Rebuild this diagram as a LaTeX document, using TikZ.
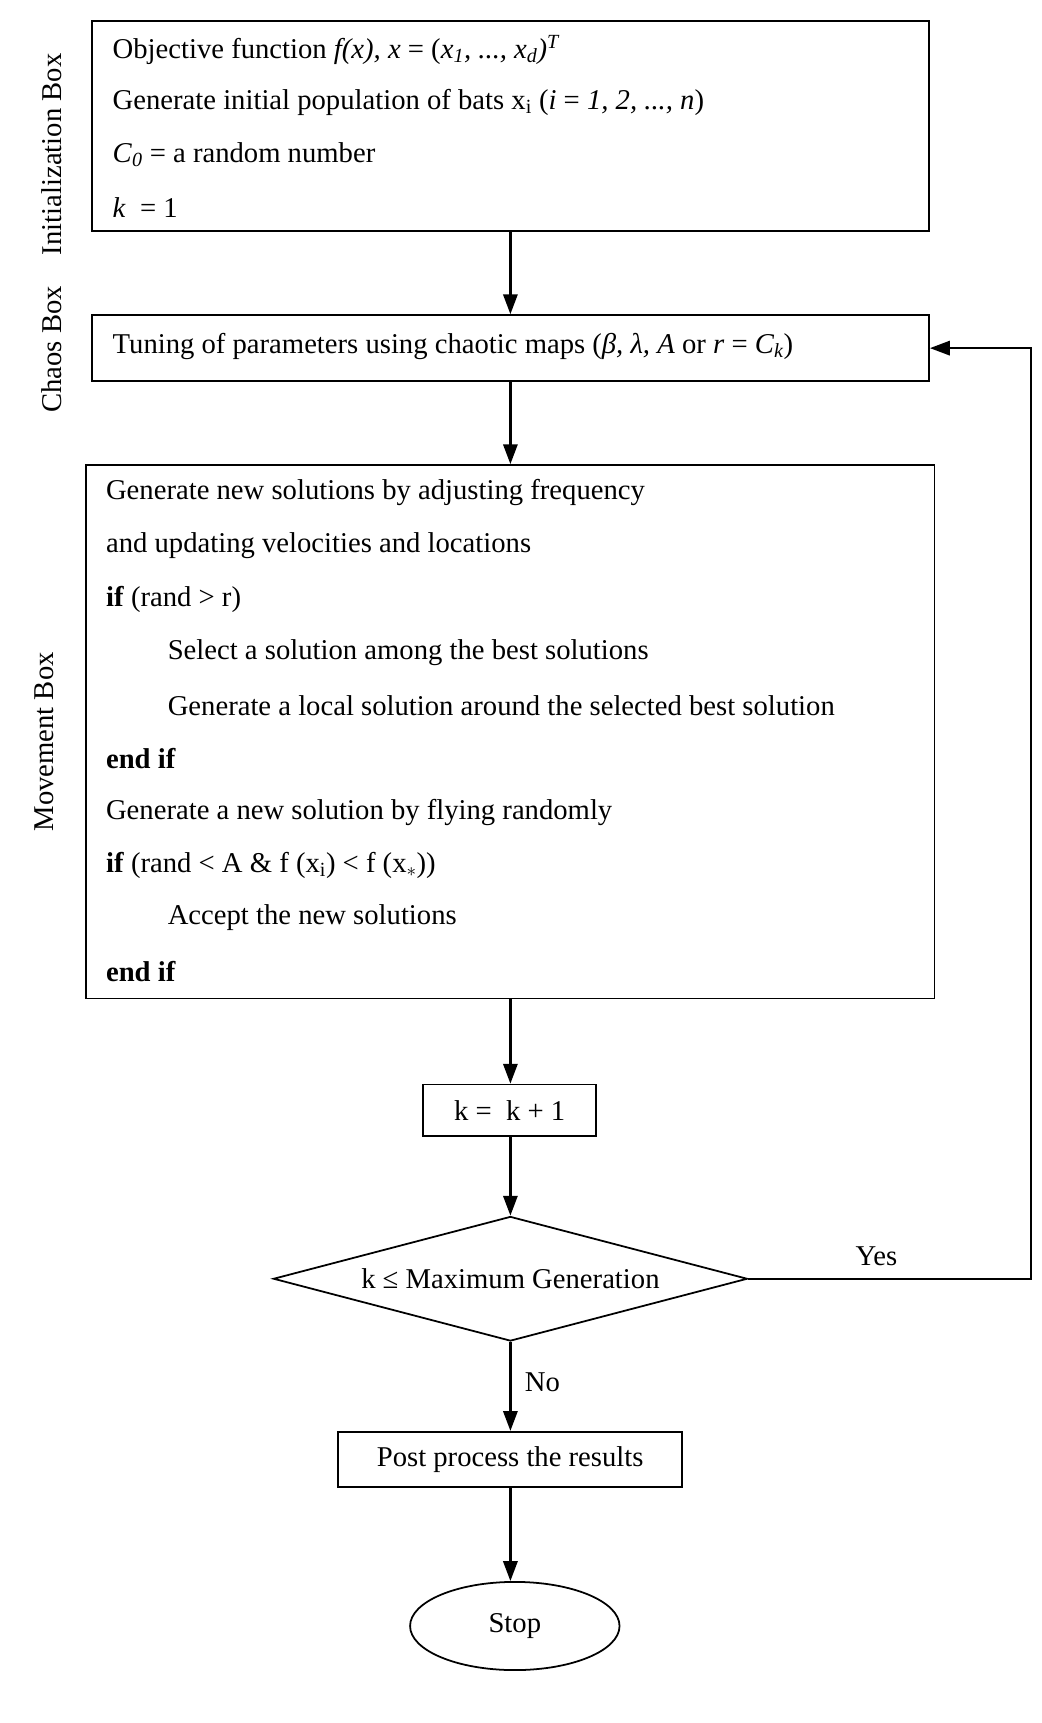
\documentclass[tikz,border=0pt]{standalone}
\usepackage{fontspec}
\setmainfont{Liberation Serif}
\usetikzlibrary{shapes.geometric,arrows.meta}
\begin{document}
\begin{tikzpicture}[x=1pt,y=-1pt,
  box/.style={draw,line width=1.6pt,inner sep=0pt,anchor=north west},
  txt/.style={anchor=west,inner sep=0pt,font=\fontsize{26}{30}\selectfont},
  side/.style={rotate=90,inner sep=0pt,font=\fontsize{26}{30}\selectfont},
  arr/.style={line width=2pt,-{Triangle[length=18pt,width=13pt]}}]
\useasboundingbox (0,0) rectangle (945,1563);
\node[box,minimum width=759pt,minimum height=191pt] (init) at (83,18) {};
\node[txt] (t1) at (102,45) {Objective function \textit{f(x), x} = (\textit{x}$_{\mathit 1}$\textit{, ..., x}$_{\mathit d}$\textit{)}$^{\mathit T}$};
\node[txt] (t2) at (102,93) {Generate initial population of bats x$_{\mathrm i}$ (\textit{i} = \textit{1, 2, ..., n})};
\node[txt] (t3) at (102,140) {\textit{C}$_{\mathit 0}$ = a random number};
\node[txt] (t4) at (102,188) {\textit{k}\ \ = 1};
\node[box,minimum width=759pt,minimum height=60pt] (chaos) at (83,285) {};
\node[txt] (c1) at (102,314) {Tuning of parameters using chaotic maps (\textit{β, λ, A} or \textit{r} = \textit{C}$_{\mathit k}$)};
\node[box,minimum width=770pt,minimum height=484pt] (move) at (77,421) {};
\node[txt] at (96,447) {Generate new solutions by adjusting frequency};
\node[txt] at (96,495) {and updating velocities and locations};
\node[txt] at (96,544) {\textbf{if} (rand > r)};
\node[txt] at (152,592) {Select a solution among the best solutions};
\node[txt] at (152,640) {Generate a local solution around the selected best solution};
\node[txt] at (96,688) {\textbf{end if}};
\node[txt] at (96,737) {Generate a new solution by flying randomly};
\node[txt] at (96,785) {\textbf{if} (rand < A \& f (x$_{\mathrm i}$) < f (x$_{*}$))};
\node[txt] at (152,832) {Accept the new solutions};
\node[txt] at (96,881) {\textbf{end if}};
\node[side] at (47,140) {Initialization Box};
\node[side] at (47,317) {Chaos Box};
\node[side] at (40,673) {Movement Box};
\node[box,minimum width=157pt,minimum height=47pt] (kk) at (383,983) {};
\node[txt,anchor=center] at (kk.center) {k =\ \ k + 1};
\node[draw,line width=1.6pt,diamond,aspect=3.8,minimum width=430pt,minimum height=113pt,inner sep=0pt] (dec) at (463,1160) {};
\node[txt,anchor=center] at (dec.center) {k ≤ Maximum Generation};
\node[box,minimum width=312pt,minimum height=50pt] (post) at (306,1298) {};
\node[txt,anchor=center] at (post.center) {Post process the results};
\node[draw,line width=1.6pt,ellipse,minimum width=190pt,minimum height=80pt,inner sep=0pt] (stop) at (467,1475) {};
\node[txt,anchor=center] at (stop.center) {Stop};
\coordinate (r1) at (935,1160);
\coordinate (r2) at (chaos.east -| r1);
\draw[arr] (init.south -| 463,0) -- (chaos.north -| 463,0);
\draw[arr] (chaos.south -| 463,0) -- (move.north -| 463,0);
\draw[arr] (move.south -| 463,0) -- (kk.north -| 463,0);
\draw[arr] (kk.south -| 463,0) -- (dec.north);
\draw[arr] (dec.south) -- (post.north -| 463,0);
\draw[arr] (post.south -| 463,0) -- (stop.north -| 463,0);
\draw[arr] (dec.east) -- (r1) -- (r2) -- (chaos.east);
\node[txt,anchor=center] at (795,1140) {Yes};
\node[txt,anchor=center] at (492,1254) {No};
\end{tikzpicture}
\end{document}
